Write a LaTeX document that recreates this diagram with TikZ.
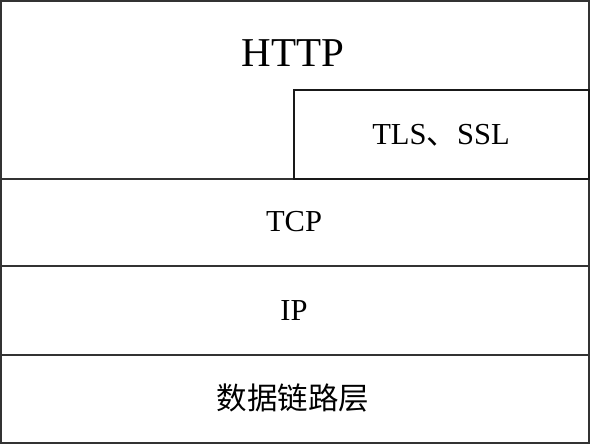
\documentclass[tikz,border=0pt]{standalone}
\usepackage{fontspec}
\setmainfont{Liberation Serif}
\newfontfamily\cjk{Noto Sans CJK SC}
\begin{document}
\begin{tikzpicture}[x=1pt,y=-1pt,
  layer/.style={draw=black!80,line width=1.3pt},
  inner/.style={draw=black!90,line width=1.4pt},
  lbl/.style={anchor=base,inner sep=0pt,font=\fontsize{30.5}{32}\selectfont},
  biglbl/.style={anchor=base,inner sep=0pt,font=\fontsize{41}{43}\selectfont}]
\useasboundingbox (0,0) rectangle (590,445);
\fill[white] (0,0) rectangle (590,445);
% layers
\draw[layer] (1,1) rectangle (589,179);
\draw[layer] (1,179) rectangle (589,266);
\draw[layer] (1,266) rectangle (589,355);
\draw[layer] (1,355) rectangle (589,443);
\draw[inner] (294,90) rectangle (589,179);
% labels
\node[biglbl] (http) at (293,66.5) {HTTP};
\node[lbl] (tls) at (441,144) {TLS{\cjk 、}SSL};
\node[lbl] (tcp) at (294,231.5) {TCP};
\node[lbl] (ip) at (294,320) {IP};
\node[lbl,font=\cjk\fontsize{30.5}{32}\selectfont] (dl) at (293,409) {数据链路层};
\end{tikzpicture}
\end{document}
